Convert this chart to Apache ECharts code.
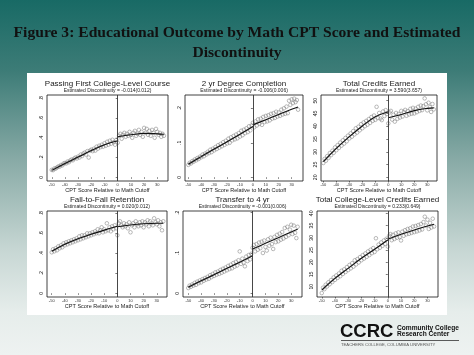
<!DOCTYPE html>
<html><head><meta charset="utf-8">
<script src="https://cdn.jsdelivr.net/npm/echarts@6/dist/echarts.min.js"></script>
<style>html,body{margin:0;padding:0;overflow:hidden;} #c{width:474px;height:355px;}</style>
</head><body><div id="c"></div>
<script>
// ---------- DATA ----------
const mainTitle = 'Figure 3: Educational Outcome by Math CPT Score and Estimated\nDiscontinuity';
const panelTitles = ['Passing First College-Level Course', '2 yr Degree Completion', 'Total Credits Earned',
  'Fall-to-Fall Retention', 'Transfer to 4 yr', 'Total College-Level Credits Earned'];
const discontinuities = ['Estimated Discontinuity = -0.014(0.012)', 'Estimated Discontinuity = -0.006(0.006)',
  'Estimated Discontinuity = 3.590(3.657)', 'Estimated Discontinuity = 0.020(0.012)',
  'Estimated Discontinuity = -0.001(0.006)', 'Estimated Discontinuity = 0.233(0.649)'];
const xAxisTitle = 'CPT Score Relative to Math Cutoff';
const xTicks = [-50, -40, -30, -20, -10, 0, 10, 20, 30];
const yTicks1 = [0, 0.2, 0.4, 0.6, 0.8];
const yTicks2 = [0, 0.1, 0.2];
const yTicks3 = [20, 25, 30, 35, 40, 45, 50];
const yTicks4 = [0, 0.2, 0.4, 0.6, 0.8];
const yTicks5 = [0, 0.1, 0.2];
const yTicks6 = [10, 15, 20, 25, 30, 35, 40];

const scores = [-50,-49,-48,-47,-46,-45,-44,-43,-42,-41,-40,-39,-38,-37,-36,-35,-34,-33,-32,-31,
  -30,-29,-28,-27,-26,-25,-24,-23,-22,-21,-20,-19,-18,-17,-16,-15,-14,-13,-12,-11,
  -10,-9,-8,-7,-6,-5,-4,-3,-2,-1,0,1,2,3,4,5,6,7,8,9,10,11,12,13,14,15,16,17,18,19,
  20,21,22,23,24,25,26,27,28,29,30,31,32,33,34,35];

const passFirst = [.075,.072,.09,.088,.10,.11,.108,.125,.12,.14,
  .145,.14,.16,.152,.17,.18,.172,.19,.20,.19,
  .21,.20,.23,.215,.24,.25,.23,.265,.20,.27,
  .28,.265,.29,.27,.31,.29,.32,.305,.33,.31,
  .345,.32,.36,.33,.37,.34,.38,.355,.33,.38,
  .35,.42,.44,.39,.43,.45,.41,.44,.42,.46,
  .43,.40,.45,.47,.42,.44,.48,.43,.46,.41,
  .50,.45,.49,.43,.47,.42,.48,.45,.40,.49,
  .46,.43,.45,.41,.44,.42];
const degree2yr = [.036,.042,.040,.047,.045,.052,.049,.056,.053,.060,
  .058,.066,.061,.069,.066,.074,.070,.080,.073,.083,
  .078,.088,.082,.093,.086,.097,.090,.102,.094,.106,
  .098,.112,.100,.116,.107,.120,.110,.124,.113,.128,
  .118,.135,.122,.138,.128,.142,.131,.148,.136,.150,
  .158,.145,.162,.150,.168,.155,.170,.152,.175,.160,
  .178,.162,.180,.165,.184,.170,.186,.172,.190,.176,
  .188,.178,.196,.182,.200,.184,.205,.186,.222,.210,
  .226,.215,.228,.218,.224,.196];
const totalCredits = [25.6,27.2,26.5,28.3,27.6,29.5,28.7,30.4,29.6,31.7,
  30.6,32.6,31.5,33.6,32.4,34.5,33.2,35.4,34.1,36.3,
  35.2,37.2,35.9,38.1,36.8,39.2,37.5,39.8,38.4,40.8,
  39.2,41.5,40.0,42.1,40.6,42.8,41.3,43.6,42.1,44.2,
  42.5,47.6,43.2,45.2,43.0,42.4,45.8,44.0,46.3,44.8,
  41.1,45.4,46.0,42.6,44.5,41.8,45.2,42.9,44.8,43.4,
  46.0,43.8,45.6,46.4,44.1,45.9,44.6,46.8,44.9,47.2,
  45.0,46.9,45.5,47.6,46.0,48.1,46.3,47.9,50.9,48.6,
  46.2,49.2,47.5,45.6,48.7,46.6];
const retention = [.41,.44,.42,.45,.43,.47,.45,.48,.46,.50,
  .48,.51,.49,.52,.50,.53,.51,.54,.52,.55,
  .53,.57,.54,.58,.55,.58,.56,.60,.57,.60,
  .58,.61,.59,.62,.60,.64,.60,.63,.66,.61,
  .64,.62,.70,.63,.66,.62,.67,.64,.68,.65,
  .58,.70,.72,.68,.66,.70,.67,.69,.65,.71,
  .61,.68,.70,.66,.72,.69,.67,.71,.68,.72,
  .66,.71,.69,.73,.67,.72,.70,.68,.75,.71,
  .69,.73,.67,.71,.63,.72];
const transfer4yr = [.013,.019,.016,.022,.019,.026,.021,.029,.025,.032,
  .027,.035,.031,.038,.034,.041,.036,.045,.040,.048,
  .043,.052,.046,.054,.048,.058,.051,.061,.054,.064,
  .057,.068,.060,.071,.062,.075,.066,.078,.069,.082,
  .104,.073,.086,.076,.067,.091,.080,.095,.084,.098,
  .113,.120,.104,.122,.108,.126,.112,.128,.100,.131,
  .115,.106,.134,.118,.138,.122,.110,.140,.127,.145,
  .129,.148,.133,.152,.136,.162,.140,.165,.144,.158,
  .170,.147,.168,.150,.137,.165];
const collegeCredits = [7.4,9.6,9.0,10.8,10.1,11.8,11.0,12.7,11.9,13.8,
  12.8,14.6,13.6,15.4,14.3,16.5,15.2,17.1,16.0,18.0,
  16.8,18.9,17.5,19.6,18.2,20.8,19.1,21.3,19.9,22.1,
  20.8,22.9,21.5,23.6,22.2,24.4,22.9,25.1,23.7,25.8,
  24.2,29.8,25.3,27.2,25.9,28.1,26.7,28.9,27.5,29.6,
  26.4,30.8,31.5,29.0,31.2,29.5,31.8,30.0,32.2,30.3,
  28.9,32.5,30.8,33.1,31.4,33.6,31.6,33.9,32.0,34.6,
  32.3,34.8,32.6,35.2,33.0,35.6,33.4,36.4,38.6,35.0,
  37.4,33.6,36.1,34.2,37.8,34.6];

const fitXLeft = [-50, -40, -30, -20, -10, 0];
const fitXRight = [0, 10, 20, 30, 35];
const fitLeft1 = [.07, .14, .205, .27, .33, .37];
const fitRight1 = [.41, .43, .445, .44, .435];
const fitLeft2 = [.038, .060, .082, .103, .125, .147];
const fitRight2 = [.152, .167, .182, .197, .204];
const fitLeft3 = [26.1, 31.3, 35.9, 40.1, 43.7, 45.7];
const fitRight3 = [43.3, 44.6, 46.1, 47.0, 47.2];
const fitLeft4 = [.42, .49, .545, .59, .632, .67];
const fitRight4 = [.665, .683, .695, .70, .70];
const fitLeft5 = [.015, .031, .046, .062, .077, .093];
const fitRight5 = [.11, .124, .138, .152, .159];
const fitLeft6 = [8.6, 13.4, 17.5, 21.6, 25.3, 29.1];
const fitRight6 = [29.4, 31.4, 33.2, 34.8, 35.5];

// ---------- LAYOUT (positions/styles) ----------
const panels = [
  {vals: passFirst, fl: fitLeft1, fr: fitRight1, yt: yTicks1, grid: {left: 47, top: 95, width: 121, height: 86}, x: [-53.6, 38.1], y: [-0.0375, 0.833]},
  {vals: degree2yr, fl: fitLeft2, fr: fitRight2, yt: yTicks2, grid: {left: 185, top: 95, width: 118, height: 86}, x: [-52.6, 38.8], y: [-0.0107, 0.2386]},
  {vals: totalCredits, fl: fitLeft3, fr: fitRight3, yt: yTicks3, grid: {left: 321, top: 95, width: 116, height: 86}, x: [-51.8, 37.5], y: [18.55, 52.23]},
  {vals: retention, fl: fitLeft4, fr: fitRight4, yt: yTicks4, grid: {left: 47, top: 211, width: 120, height: 86}, x: [-53.6, 37.8], y: [-0.037, 0.823]},
  {vals: transfer4yr, fl: fitLeft5, fr: fitRight5, yt: yTicks5, grid: {left: 183, top: 211, width: 119, height: 86}, x: [-54.1, 38.4], y: [-0.0092, 0.2042]},
  {vals: collegeCredits, fl: fitLeft6, fr: fitRight6, yt: yTicks6, grid: {left: 317, top: 211, width: 121, height: 86}, x: [-53.6, 38.0], y: [5.79, 40.94]}
];

const FONT = 'Liberation Sans, Arial, sans-serif';
const fmtY = v => v === 0 ? '0' : (Math.abs(v) < 1 ? String(v).replace('0.', '.') : String(v));

const grids = [], xAxes = [], yAxes = [], series = [], graphics = [];

graphics.push({type: 'rect', shape: {x: 27, y: 73, width: 420, height: 242}, style: {fill: '#ffffff'}, z: -10});

panels.forEach((p, i) => {
  grids.push(Object.assign({show: true, borderColor: '#111', borderWidth: 0.8, backgroundColor: '#fff'}, p.grid));
  xAxes.push({
    type: 'value', gridIndex: i, min: p.x[0], max: p.x[1],
    name: xAxisTitle, nameLocation: 'middle', nameGap: 6,
    nameTextStyle: {fontSize: 5.5, fontFamily: FONT, color: '#222'},
    axisLine: {show: false}, splitLine: {show: false},
    axisTick: {show: true, length: 1.5, customValues: xTicks, lineStyle: {color: '#222', width: 0.6}},
    axisLabel: {fontSize: 4, margin: 2, color: '#333', fontFamily: FONT, customValues: xTicks}
  });
  yAxes.push({
    type: 'value', gridIndex: i, min: p.y[0], max: p.y[1],
    axisLine: {show: false}, splitLine: {show: false},
    axisTick: {show: true, length: 2, customValues: p.yt, lineStyle: {color: '#222', width: 0.6}},
    axisLabel: {fontSize: 5.2, margin: 3, rotate: 90, color: '#111', fontFamily: FONT, customValues: p.yt, formatter: fmtY}
  });
  series.push({
    type: 'scatter', xAxisIndex: i, yAxisIndex: i,
    data: scores.map((s, j) => [s, p.vals[j]]),
    symbol: 'circle', symbolSize: 3.6,
    itemStyle: {color: 'rgba(255,255,255,0)', borderColor: '#7a7a7a', borderWidth: 0.65},
    markLine: {silent: true, symbol: ['none', 'none'], label: {show: false},
      lineStyle: {color: '#333', width: 0.9, type: 'solid'}, data: [{xAxis: 0}]}
  });
  series.push({
    type: 'line', xAxisIndex: i, yAxisIndex: i, data: fitXLeft.map((x, j) => [x, p.fl[j]]),
    smooth: 0.4, symbol: 'none', lineStyle: {color: '#111', width: 1.1}
  });
  series.push({
    type: 'line', xAxisIndex: i, yAxisIndex: i, data: fitXRight.map((x, j) => [x, p.fr[j]]),
    smooth: 0.4, symbol: 'none', lineStyle: {color: '#111', width: 1.1}
  });
  const cx = p.grid.left + p.grid.width / 2;
  graphics.push({type: 'text', x: cx, y: p.grid.top - 11, style: {text: panelTitles[i], fill: '#1a1a1a',
    font: '8px ' + FONT, align: 'center', verticalAlign: 'middle'}});
  graphics.push({type: 'text', x: cx, y: p.grid.top - 4.5, style: {text: discontinuities[i], fill: '#222',
    font: '5px ' + FONT, align: 'center', verticalAlign: 'middle'}});
});

// logo
graphics.push({type: 'text', x: 340, y: 331.5, style: {text: 'CCRC', fill: '#111', font: '900 18.5px ' + FONT, align: 'left', verticalAlign: 'middle'}});
graphics.push({type: 'text', x: 397, y: 328, style: {text: 'Community College', fill: '#111', font: 'bold 6.6px ' + FONT, align: 'left', verticalAlign: 'middle'}});
graphics.push({type: 'text', x: 397, y: 334.5, style: {text: 'Research Center', fill: '#111', font: 'bold 6.6px ' + FONT, align: 'left', verticalAlign: 'middle'}});
graphics.push({type: 'line', shape: {x1: 341, y1: 340.5, x2: 459, y2: 340.5}, style: {stroke: '#333', lineWidth: 0.8}});
graphics.push({type: 'text', x: 341, y: 344.5, style: {text: 'TEACHERS COLLEGE, COLUMBIA UNIVERSITY', fill: '#555', font: '4.2px ' + FONT, align: 'left', verticalAlign: 'middle'}});

const chart = echarts.init(document.getElementById('c'), null, {renderer: 'canvas'});
chart.setOption({
  animation: false,
  backgroundColor: {type: 'linear', x: 0, y: 0, x2: 0, y2: 1, colorStops: [
    {offset: 0, color: '#186a65'}, {offset: 0.2, color: '#3d7c77'}, {offset: 0.45, color: '#88aaa6'},
    {offset: 0.7, color: '#c6d6d3'}, {offset: 0.88, color: '#e6edeb'}, {offset: 1, color: '#eef2f1'}]},
  title: {text: mainTitle, left: 237, top: 22.5, textAlign: 'center', padding: 0,
    textStyle: {fontFamily: 'Liberation Serif, Times New Roman, serif', fontWeight: 'bold', fontSize: 15.6, lineHeight: 20.5, color: '#111'}},
  grid: grids, xAxis: xAxes, yAxis: yAxes, series: series, graphic: graphics
});
</script></body></html>
